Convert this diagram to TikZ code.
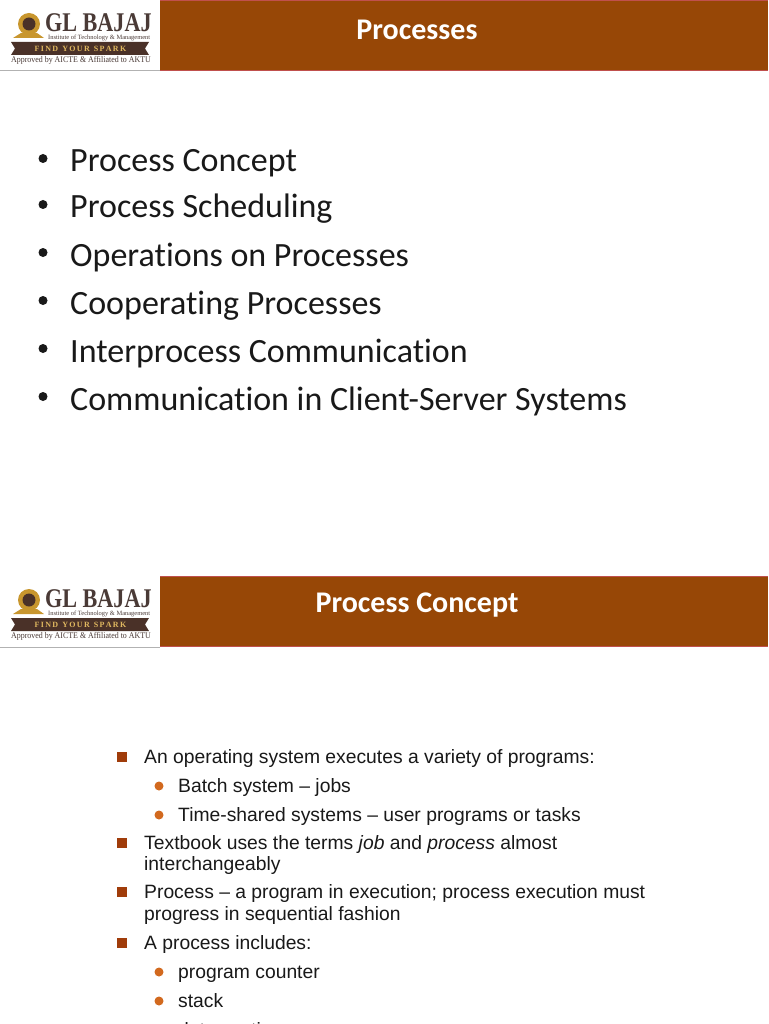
\documentclass[tikz,border=0pt]{standalone}
\usepackage{fontspec}
\setmainfont[Ligatures=NoCommon]{Carlito}
\newfontfamily\armfont{Liberation Sans}
\newfontfamily\logofont{Liberation Serif}
\definecolor{bandbrown}{HTML}{974706}
\definecolor{bandred}{HTML}{C0504D}
\definecolor{ribbonbrown}{HTML}{4A3128}
\definecolor{sparkgold}{HTML}{E0B860}
\definecolor{medalgold}{HTML}{C8962E}
\definecolor{squarebrown}{HTML}{A03C0A}
\definecolor{dotorange}{HTML}{D2691E}
\definecolor{logotext}{HTML}{4A3A36}
\tikzset{
  slidetitle/.style={text=white,font=\bfseries\fontsize{30}{34}\selectfont,anchor=center},
  bigitem/.style={anchor=base west,inner sep=0pt,font=\fontsize{34}{40}\selectfont,text=black!90},
  bigdot/.style={circle,fill=black!90,minimum size=9pt,inner sep=0pt},
  armitem/.style={anchor=base west,inner sep=0pt,font=\armfont\fontsize{19.3}{23}\selectfont,text=black!90},
  armsquare/.style={fill=squarebrown,minimum size=10pt,inner sep=0pt},
  armdot/.style={circle,fill=dotorange,minimum size=9pt,inner sep=0pt},
  logoname/.style={anchor=west,inner sep=0pt,text=logotext,xscale=.82,text depth=0pt,font=\logofont\bfseries\fontsize{27}{30}\selectfont},
  logosmall/.style={anchor=west,inner sep=0pt,text=logotext,font=\logofont\fontsize{6.45}{7}\selectfont},
  logoapproved/.style={anchor=west,inner sep=0pt,text=logotext,xscale=.91,font=\logofont\fontsize{8.7}{10}\selectfont},
  logospark/.style={anchor=center,inner sep=0pt,text=sparkgold,font=\logofont\bfseries\fontsize{8}{10}\selectfont},
}
% one slide header, #1 = top edge
\newcommand{\slidehead}[3]{%
  \fill[bandbrown] (160,#1) rectangle (768,#1+70);
  \draw[bandred,line width=1pt] (160,#1+.5) -- (768,#1+.5);
  \draw[bandred,line width=.7pt] (160,#1+70) -- (768,#1+70);
  \draw[black!30,line width=1pt] (0,#1+71) -- (160,#1+71);
  \node[slidetitle] (#3) at (417,#1+29.5) {#2};
  % the logo
  \fill[ribbonbrown] (11,#1+42) -- (149,#1+42) -- (145,#1+48.5) -- (149,#1+55) -- (11,#1+55) -- (15,#1+48.5) -- cycle;
  \fill[medalgold] (13,#1+38) -- (21,#1+33) -- (37,#1+33) -- (44,#1+38) -- cycle;
  \fill[medalgold] (29,#1+24) circle (11);
  \fill[ribbonbrown] (29,#1+24) circle (6.5);
  \node[logoname] (#3name) at (45,#1+23) {GL BAJAJ};
  \node[logosmall] (#3inst) at (48,#1+38) {Institute of Technology \& Management};
  \node[logospark] (#3spark) at (80.5,#1+49) {F\,I\,N\,D\ \ Y\,O\,U\,R\ \ S\,P\,A\,R\,K};
  \node[logoapproved] (#3appr) at (11,#1+60.5) {Approved by AICTE \& Affiliated to AKTU};
}
\begin{document}
\begin{tikzpicture}[x=1pt,y=-1pt]
  \useasboundingbox (0,0) rectangle (768,1024);
  \clip (0,0) rectangle (768,1024);
  \fill[white] (0,0) rectangle (768,1024);

  %% first slide
  \slidehead{0}{Processes}{headA}
  \foreach \n/\y/\txt in {1/172/Process Concept,2/218/Process Scheduling,3/266/Operations on Processes,
    4/314/Cooperating Processes,5/362/Interprocess Communication,6/410/Communication in Client-Server Systems}
  {
    \node[bigdot] (dot\n) at (43,\y-13.5) {};
    \node[bigitem] (item\n) at (70,\y) {\txt};
  }

  %% second slide
  \slidehead{576}{Process Concept}{headB}
  \foreach \n/\y/\txt in {1/763/An operating system executes a variety of programs:,
    2/849/Textbook uses the terms \textit{job} and \textit{process} almost,
    3/898/Process – a program in execution; process execution must,
    4/949/A process includes:}
  {
    \node[armsquare] (sq\n) at (122,\y-6.5) {};
    \node[armitem] (arm\n) at (144,\y) {\txt};
  }
  % second lines
  \node[armitem] (arm2b) at (144,870) {interchangeably};
  \node[armitem] (arm3b) at (144,920) {progress in sequential fashion};
  \foreach \n/\y/\txt in {1/792/Batch system – jobs,2/821/Time-shared systems – user programs or tasks,
    3/978/program counter,4/1007/stack,5/1036/data section}
  {
    \node[armdot] (sub\n) at (159,\y-6) {};
    \node[armitem] (subtxt\n) at (178,\y) {\txt};
  }
\end{tikzpicture}
\end{document}
